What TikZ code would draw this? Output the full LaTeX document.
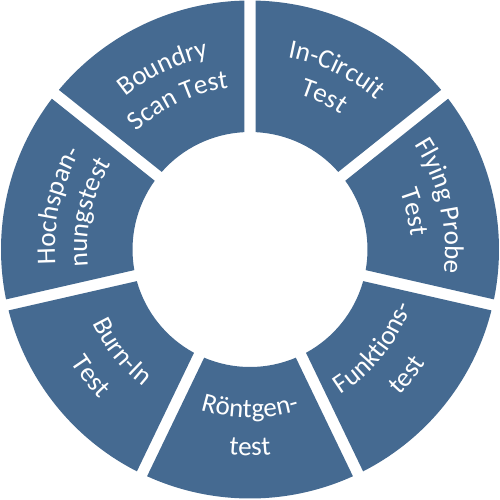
\documentclass[tikz,border=0pt]{standalone}
\usepackage{fontspec}
\setmainfont{Carlito}
\usetikzlibrary{decorations.text}
\definecolor{segblue}{RGB}{69,106,145}
\newcommand\segfont{\fontsize{27pt}{31pt}\selectfont}
\def\rout{249}
\def\rin{117.5}
\def\gaphalf{5.65}

\begin{document}
\begin{tikzpicture}[
      segment/.style={fill=segblue},
      arctext/.style={decorate, decoration={text along path, text={|\segfont|#1}, text align=center, text color=white}}
    ]
      \useasboundingbox (-250pt,-249.5pt) rectangle (250pt,249.5pt);
      \pgfmathsetmacro\dout{asin(\gaphalf/\rout)}
      \pgfmathsetmacro\din{asin(\gaphalf/\rin)}

      % seven ring segments, gaps of constant width
      \foreach \i in {0,...,6}{
        \pgfmathsetmacro\ga{90-\i*360/7}
        \pgfmathsetmacro\gb{\ga-360/7}
        \fill[segment] ({\ga-\dout}:\rout pt) arc[start angle={\ga-\dout}, end angle={\gb+\dout}, radius=\rout pt]
          -- ({\gb+\din}:\rin pt) arc[start angle={\gb+\din}, end angle={\ga-\din}, radius=\rin pt] -- cycle;
      }

      % upper labels, read clockwise
      \path[arctext=In-Circuit] (88.29:196pt) arc[start angle=88.29, end angle=40.29, radius=196pt];
      \path[arctext=Test] (88.29:163pt) arc[start angle=88.29, end angle=40.29, radius=163pt];

      \path[arctext=Flying Probe] (36.86:195pt) arc[start angle=36.86, end angle=-11.14, radius=195pt];
      \path[arctext=Test] (36.86:161pt) arc[start angle=36.86, end angle=-11.14, radius=161pt];

      \path[arctext=Hochspan-] (191.14:195pt) arc[start angle=191.14, end angle=143.14, radius=195pt];
      \path[arctext=nungstest] (191.14:163pt) arc[start angle=191.14, end angle=143.14, radius=163pt];

      \path[arctext=Boundry] (139.71:197pt) arc[start angle=139.71, end angle=91.71, radius=197pt];
      \path[arctext=Scan Test] (139.71:163pt) arc[start angle=139.71, end angle=91.71, radius=163pt];

      % lower labels, read counter-clockwise
      \path[arctext=Funktions-] (-62.57:171pt) arc[start angle=-62.57, end angle=-14.57, radius=171pt];
      \path[arctext=test] (-62.57:209pt) arc[start angle=-62.57, end angle=-14.57, radius=209pt];

      \path[arctext=Röntgen-] (-114:168pt) arc[start angle=-114, end angle=-66, radius=168pt];
      \path[arctext=test] (-114:206pt) arc[start angle=-114, end angle=-66, radius=206pt];

      \path[arctext=Burn-In] (-165.43:174pt) arc[start angle=-165.43, end angle=-117.43, radius=174pt];
      \path[arctext=Test] (-165.43:212pt) arc[start angle=-165.43, end angle=-117.43, radius=212pt];
    \end{tikzpicture}
\end{document}
